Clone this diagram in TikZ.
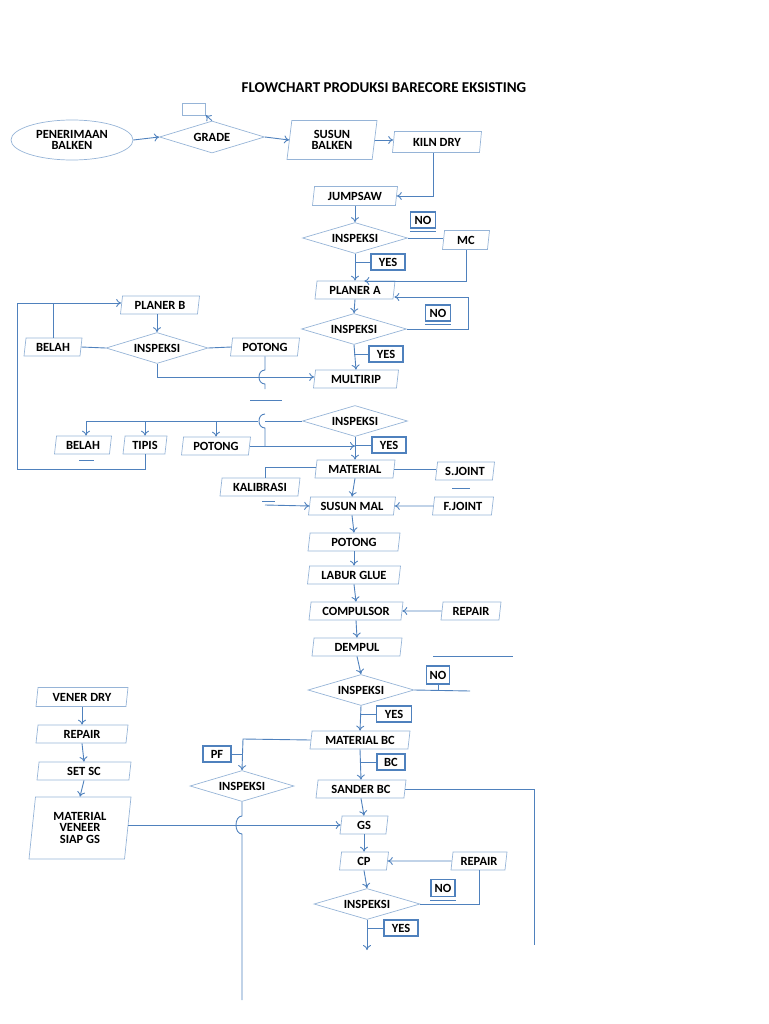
\documentclass[tikz,border=0pt]{standalone}
\usepackage{fontspec}
\setmainfont{Carlito}
\usetikzlibrary{shapes.geometric,arrows.meta}
\definecolor{lnc}{RGB}{79,129,189}
\definecolor{shp}{RGB}{150,180,215}
\newcommand\tx[1]{\makebox[0pt]{#1}}
\tikzset{
 base/.style={font=\bfseries\fontsize{12.5}{14}\selectfont, inner sep=0pt},
 para/.style={base, trapezium, trapezium left angle=76, trapezium right angle=104, trapezium stretches body, draw=shp, line width=0.7pt, minimum height=18},
 dia/.style={base, diamond, draw=shp, line width=0.7pt, minimum width=105, minimum height=31},
 box/.style={base, draw=lnc, line width=1.1pt, minimum width=34, minimum height=16},
 ln/.style={draw=lnc, line width=0.9pt},
 arr/.style={ln, -{To[length=5pt,width=8pt]}},
}
\begin{document}
\begin{tikzpicture}[x=1pt,y=-1pt]
\useasboundingbox (0,0) rectangle (768,1024);
\node[base,font=\bfseries\fontsize{15}{17}\selectfont] (title) at (384,88) {FLOWCHART PRODUKSI BARECORE EKSISTING};
% top row
\node[base,ellipse,draw=shp,line width=0.7pt,minimum width=122,minimum height=40] (pen) at (72,140) {\tx{\shortstack{PENERIMAAN\\BALKEN}}};
\node[dia,minimum width=105,minimum height=32] (grade) at (212,137) {\tx{GRADE}};
\node[draw=shp,minimum width=23,minimum height=12,inner sep=0] (sm) at (194,109) {};
\node[para,minimum width=90,minimum height=39] (susun) at (332,140) {\tx{\shortstack{SUSUN\\BALKEN}}};
\node[para,minimum width=89,minimum height=21] (kiln) at (437,142) {\tx{KILN DRY}};
\node[para,minimum width=85,minimum height=19] (jump) at (355,196) {\tx{JUMPSAW}};
\node[dia] (i1) at (355,238) {\tx{INSPEKSI}};
\node[box,minimum width=25] (no1) at (423,220) {NO};
\node[para,minimum width=47,minimum height=19] (mc) at (466,240) {\tx{MC}};
\node[box] (yes1) at (388,262) {YES};
\node[para,minimum width=80] (pa) at (355,290) {\tx{PLANER A}};
\node[dia] (i2) at (354,329) {\tx{INSPEKSI}};
\node[box,minimum width=25] (no2) at (438,313) {NO};
\node[box] (yes2) at (386,354) {YES};
\node[para,minimum width=85] (mr) at (356,379) {\tx{MULTIRIP}};
% left block
\node[para,minimum width=79] (pb) at (160,305) {\tx{PLANER B}};
\node[dia,minimum width=102] (i3) at (157,348) {\tx{INSPEKSI}};
\node[para,minimum width=58] (bel1) at (53,347) {\tx{BELAH}};
\node[para,minimum width=69] (pot1) at (265,347) {\tx{POTONG}};
\node[dia] (i4) at (355,421) {\tx{INSPEKSI}};
\node[para,minimum width=57] (bel2) at (83,445) {\tx{BELAH}};
\node[para,minimum width=44] (tip) at (145,445) {\tx{TIPIS}};
\node[para,minimum width=69] (pot2) at (216,446) {\tx{POTONG}};
\node[box] (yes3) at (389,445) {YES};
\node[para,minimum width=80] (mat) at (355,469) {\tx{MATERIAL}};
\node[para,minimum width=80] (kal) at (260,487) {\tx{KALIBRASI}};
\node[para,minimum width=59] (sj) at (465,471) {\tx{S.JOINT}};
\node[para,minimum width=87] (sm2) at (352,506) {\tx{SUSUN MAL}};
\node[para,minimum width=61] (fj) at (463,506) {\tx{F.JOINT}};
\node[para,minimum width=92] (pot3) at (354,542) {\tx{POTONG}};
\node[para,minimum width=93] (lab) at (354,575) {\tx{LABUR GLUE}};
\node[para,minimum width=94] (comp) at (356,611) {\tx{COMPULSOR}};
\node[para,minimum width=60] (rep1) at (471,611) {\tx{REPAIR}};
\node[para,minimum width=90] (dem) at (357,647) {\tx{DEMPUL}};
\node[dia,minimum width=106] (i5) at (361,690) {\tx{INSPEKSI}};
\node[box,minimum width=23,minimum height=18] (no3) at (438,675) {NO};
\node[box,minimum width=35] (yes4) at (394,714) {YES};
\node[para,minimum width=100] (mbc) at (360,740) {\tx{MATERIAL BC}};
\node[box,minimum width=28] (pf) at (217,754) {PF};
\node[box,minimum width=28] (bc) at (391,762) {BC};
\node[dia,minimum width=104] (i6) at (242,786) {\tx{INSPEKSI}};
\node[para,minimum width=90] (sbc) at (361,789) {\tx{SANDER BC}};
\node[para,minimum width=48] (gs) at (364,825) {\tx{GS}};
\node[para,minimum width=49] (cp) at (364,861) {\tx{CP}};
\node[para,minimum width=56] (rep3) at (479,861) {\tx{REPAIR}};
\node[box,minimum width=24,minimum height=17] (no4) at (443,888) {NO};
\node[dia,minimum width=106] (i7) at (367,904) {\tx{INSPEKSI}};
\node[box] (yes5) at (401,928) {YES};
% veneer column
\node[para,minimum width=92,minimum height=19] (vd) at (82,697) {\tx{VENER DRY}};
\node[para,minimum width=92] (rep2) at (82,734) {\tx{REPAIR}};
\node[para,minimum width=94] (ssc) at (84,771) {\tx{SET SC}};
\node[para,trapezium left angle=78,trapezium right angle=102,minimum width=102,minimum height=62] (mv) at (80,828) {\tx{\shortstack{MATERIAL\\VENEER\\SIAP GS}}};
% coordinates
\coordinate (k1) at (433,194);
\coordinate (m1) at (467,281);
\coordinate (n1) at (468,331);
\coordinate (n2) at (468,297);
\coordinate (l1) at (17,469);
\coordinate (l2) at (17,303);
\coordinate (hx) at (265,0);
\coordinate (e1) at (470,691);
\coordinate (sr) at (534,945);
\coordinate (pfx) at (243,739);
\coordinate (end1) at (242,1000);
\coordinate (end2) at (367,950);
\coordinate (r3) at (479,906);
% connectors
\draw[arr] (pen.east) -- (grade.west);
\draw[arr] (grade.north) -- (sm.south east);
\draw[arr] (grade.east) -- (susun.west);
\draw[arr] (susun.east) -- (susun.east -| kiln.west);
\draw[arr] (kiln.south -| k1) |- (jump.east);
\draw[arr] (jump.south) -- (i1.north);
\draw[ln] (i1.east) -- (i1.east -| mc.west);
\draw[arr] (mc.south) |- (m1 -| pa.north east);
\draw[ln] (i1.south |- yes1.west) -- (yes1.west);
\draw[arr] (i1.south) -- (pa.north);
\draw[arr] (i2.east) -- (n1 |- i2.east) -- (n2) -- (n2 -| pa.east);
\draw[arr] (pa.south) -- (i2.north);
\draw[ln] (i2.south |- yes2.west) -- (yes2.west);
\draw[arr] (i2.south) -- (mr.north);
\draw[ln] ([yshift=-3]no1.south west) -- ([yshift=-3]no1.south east);
\draw[ln] ([yshift=-3]no2.south west) -- ([yshift=-3]no2.south east);
% planer B block
\draw[arr] (pb.south -| i3.north) -- (i3.north);
\draw[ln] (i3.west) -- (bel1.east);
\draw[ln] (i3.east) -- (pot1.west);
\draw[arr] (i3.south) |- (mr.west |- 0,377);
\draw[arr] (tip.south) |- (l1) -- (l2) -- (pb.west |- l2);
\draw[ln] (bel1.north) -- (bel1.north |- l2);
% potong1 down with hops
\draw[ln] (pot1.south) -- (265,370) .. controls (257,370) and (257,384) .. (265,384) -- (265,389);
\draw[ln] (250,400) -- (282,400);
\draw[ln] (265,414) .. controls (257,414) and (257,428) .. (265,428) -- (265,446);
% inspeksi 4 branches
\draw[ln] (i4.west) -- (265,421);
\draw[ln] (258,421) -- (86,421);
\draw[arr] (86,421) -- (bel2.north -| 86,0);
\draw[arr] (tip.north |- 0,421) -- (tip.north);
\draw[arr] (pot2.north |- 0,421) -- (pot2.north);
\draw[ln] (79,460) -- (94,460);
\draw[arr] (pot2.east) -- (pot2.east -| i4.south);
\draw[arr] (i4.south) -- (mat.north);
\draw[ln] (i4.south |- yes3.west) -- (yes3.west);
% material block
\draw[ln] (mat.west |- 0,467) -| (kal.north -| hx);
\draw[ln] (mat.east) -- (mat.east -| sj.west);
\draw[ln] (452,488) -- (470,488);
\draw[arr] (mat.south) -- (sm2.north);
\draw[ln] (262,501) -- (275,501);
\draw[arr] (265,505) -- (sm2.west);
\draw[arr] (fj.west) -- (sm2.east);
\draw[arr] (sm2.south) -- (pot3.north);
\draw[arr] (pot3.south) -- (lab.north);
\draw[arr] (lab.south) -- (comp.north);
\draw[arr] (rep1.west) -- (comp.east);
\draw[arr] (comp.south) -- (dem.north);
\draw[ln] (433,656) -- (513,656);
\draw[arr] (dem.south) -- (i5.north);
\draw[ln] (i5.east) -- (e1);
\draw[ln] (no3.south) -- (no3.south |- e1);
\draw[ln] (i5.south |- yes4.west) -- (yes4.west);
\draw[arr] (i5.south) -- (mbc.north);
% material BC
\draw[arr] (mbc.west) -- (pfx) -- (i6.north);
\draw[ln] (pf.east) -- (pf.east -| i6.north);
\draw[ln] (i6.south) -- (242,816) .. controls (234,816) and (234,834) .. (242,834) -- (end1);
\draw[arr] (mbc.south) -- (sbc.north);
\draw[ln] (sbc.north |- bc.west) -- (bc.west);
\draw[ln] (sbc.east) -| (sr);
\draw[arr] (sbc.south) -- (gs.north);
\draw[arr] (mv.east |- gs.west) -- (gs.west);
\draw[arr] (gs.south) -- (cp.north);
\draw[arr] (rep3.west) -- (cp.east);
\draw[ln] (rep3.south) |- (i7.east);
\draw[ln] ([yshift=-3]no4.south west) -- ([yshift=-3]no4.south east);
\draw[arr] (cp.south) -- (i7.north);
\draw[ln] (i7.south |- yes5.west) -- (yes5.west);
\draw[arr] (i7.south) -- (end2);
% veneer
\draw[arr] (vd.south) -- (rep2.north);
\draw[arr] (rep2.south) -- (ssc.north);
\draw[arr] (ssc.south) -- (mv.north);
\end{tikzpicture}
\end{document}
